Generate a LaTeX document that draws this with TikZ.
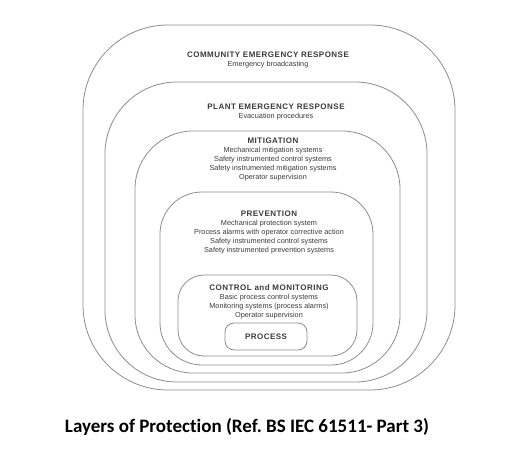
\documentclass[tikz,border=0pt]{standalone}
\usepackage{fontspec}
\setmainfont{Liberation Sans}
\newfontfamily\headfont[LetterSpace=6]{Liberation Sans}
\newfontfamily\capfont[Ligatures=NoCommon]{Carlito}
\usetikzlibrary{positioning}
\definecolor{linegray}{HTML}{8C8C8C}
\definecolor{textgray}{HTML}{3A3A3A}
\newcommand{\layerhead}[1]{{\headfont\bfseries\fontsize{8}{9}\selectfont #1}}

\begin{document}
\begin{tikzpicture}[x=1pt, y=-1pt, thick,
    layer/.style={draw=linegray, line width=0.8pt, rectangle, inner sep=0pt},
    lines/.style={align=center, text=textgray, font=\fontsize{7.3}{9}\selectfont, inner sep=0pt}]
        \useasboundingbox (0,0) rectangle (523,458);

        % the layers, outside in
        \node[layer, minimum width=372, minimum height=365, rounded corners=85] (community) at (269,207.5) {};
        \node[layer, minimum width=322, minimum height=300, rounded corners=72] (plant) at (266,232) {};
        \node[layer, minimum width=265, minimum height=242, rounded corners=58] (mitigation) at (267.5,252) {};
        \node[layer, minimum width=213, minimum height=173, rounded corners=42] (prevention) at (266.5,278.5) {};
        \node[layer, minimum width=179, minimum height=81, rounded corners=26] (control) at (267.5,315.5) {};
        \node[layer, minimum width=82, minimum height=27, rounded corners=9] (process) at (266,336.5) {};

        % texts
        \node[lines] (communitytxt) at (268,60) {\layerhead{COMMUNITY EMERGENCY RESPONSE} \\ Emergency broadcasting};
        \node[lines] (planttxt) at (276,112) {\layerhead{PLANT EMERGENCY RESPONSE} \\ Evacuation procedures};
        \node[lines] (mitigationtxt) at (273,159.5) {\layerhead{MITIGATION} \\ Mechanical mitigation systems \\ Safety instrumented control systems \\ Safety instrumented mitigation systems \\ Operator supervision};
        \node[lines] (preventiontxt) at (269,232) {\layerhead{PREVENTION} \\ Mechanical protection system \\ Process alarms with operator corrective action \\ Safety instrumented control systems \\ Safety instrumented prevention systems};
        \node[lines] (controltxt) at (269,302) {\layerhead{CONTROL and MONITORING} \\ Basic process control systems \\ Monitoring systems (process alarms) \\ Operator supervision};
        \node[lines] (processtxt) at (266,337) {\layerhead{PROCESS}};

        \node[font=\capfont\bfseries\fontsize{19}{21}\selectfont, inner sep=0pt] (caption) at (247,427) {\frenchspacing Layers of Protection (Ref. BS IEC 61511- Part 3)};
    \end{tikzpicture}
\end{document}
